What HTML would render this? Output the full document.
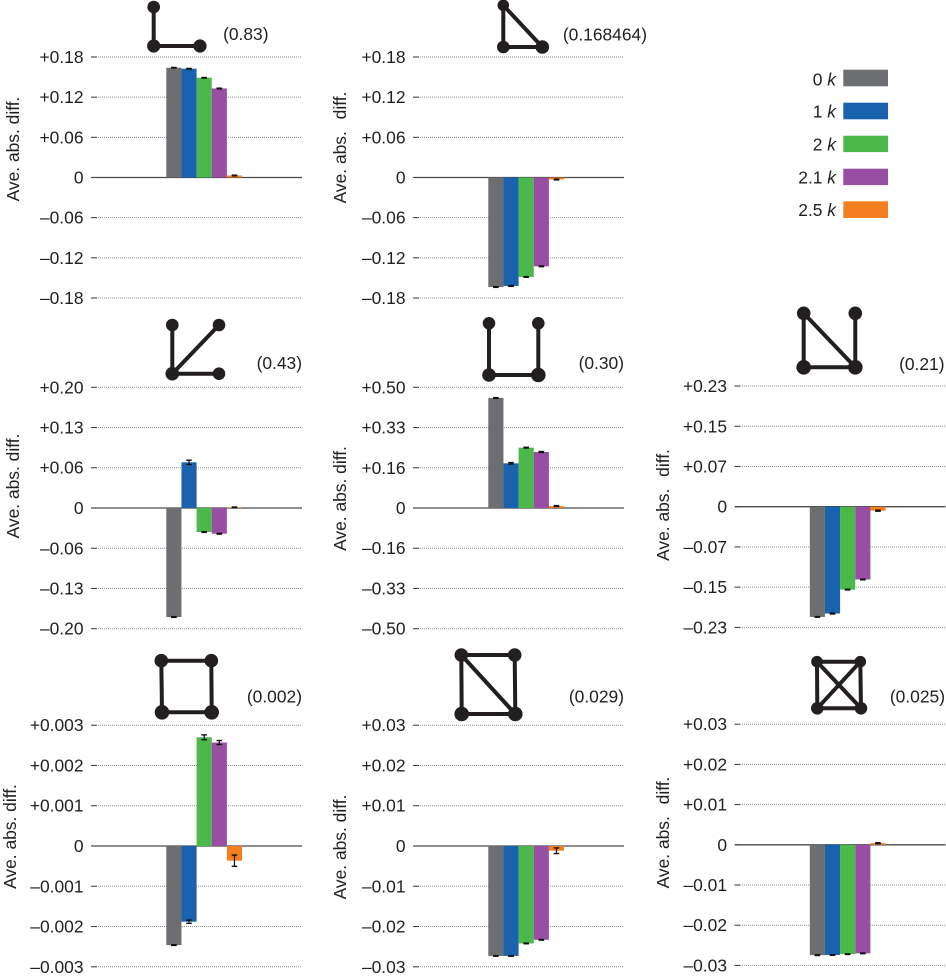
<!DOCTYPE html>
<html lang="en">
<head>
<meta charset="utf-8">
<title>Average absolute difference by motif</title>
<style>
  html, body { margin: 0; padding: 0; background: #fff; }
  #chart { display: block; }
  text { font-family: "Liberation Sans", Arial, sans-serif; font-size: 17.4px; fill: #231f20; }
  .edge { stroke: #231f20; stroke-width: 4; stroke-linecap: round; fill: none; }
  .node { fill: #231f20; stroke: #231f20; stroke-width: 0.6; }
</style>
</head>
<body>
<svg id="chart" xmlns="http://www.w3.org/2000/svg" width="946" height="977" viewBox="0 0 946 977">
  <rect x="0" y="0" width="946" height="977" fill="#fff"/>

  <g id="panels"></g>

  <!-- y-axis titles -->
  <text transform="translate(19,149) rotate(-90)" text-anchor="middle">Ave. abs. diff.</text>
  <text transform="translate(346,147.5) rotate(-90)" text-anchor="middle">Ave. abs. <tspan dx="7">diff.</tspan></text>
  <text transform="translate(19,486) rotate(-90)" text-anchor="middle">Ave. abs. diff.</text>
  <text transform="translate(346,498.5) rotate(-90)" text-anchor="middle">Ave. abs. diff.</text>
  <text transform="translate(669,505) rotate(-90)" text-anchor="middle">Ave. abs. <tspan dx="7">diff.</tspan></text>
  <text transform="translate(16,836.5) rotate(-90)" text-anchor="middle">Ave. abs. diff.</text>
  <text transform="translate(346,847) rotate(-90)" text-anchor="middle">Ave. abs. diff.</text>
  <text transform="translate(669,832.5) rotate(-90)" text-anchor="middle">Ave. abs. <tspan dx="7">diff.</tspan></text>

  <!-- motif frequency labels -->
  <text x="268.5" y="40" text-anchor="end">(0.83)</text>
  <text x="647" y="40.5" text-anchor="end">(0.168464)</text>
  <text x="302" y="369" text-anchor="end">(0.43)</text>
  <text x="624" y="369" text-anchor="end">(0.30)</text>
  <text x="944.5" y="370" text-anchor="end">(0.21)</text>
  <text x="302" y="702.5" text-anchor="end">(0.002)</text>
  <text x="624" y="702.5" text-anchor="end">(0.029)</text>
  <text x="945" y="702.5" text-anchor="end">(0.025)</text>

  <!-- motif glyphs -->
  <g>
    <path class="edge" d="M153.7 7V46H200"/>
    <circle class="node" cx="153.7" cy="7" r="6"/><circle class="node" cx="153.7" cy="46" r="6.3"/><circle class="node" cx="200" cy="46" r="6.3"/>
  </g>
  <g>
    <path class="edge" d="M503.3 5.3V47H542.3Z"/>
    <circle class="node" cx="503.3" cy="5.3" r="5.5"/><circle class="node" cx="503.3" cy="47" r="6"/><circle class="node" cx="542.3" cy="47" r="6.5"/>
  </g>
  <g>
    <path class="edge" d="M172.3 325V373.7H219M172.3 373.7L219 325"/>
    <circle class="node" cx="172.3" cy="325" r="6"/><circle class="node" cx="219" cy="325" r="6"/><circle class="node" cx="172.3" cy="373.7" r="6.5"/><circle class="node" cx="219" cy="373.7" r="6"/>
  </g>
  <g>
    <path class="edge" d="M489 323.3V375H538.3V323.3"/>
    <circle class="node" cx="489" cy="323.3" r="6"/><circle class="node" cx="538.3" cy="323.3" r="6"/><circle class="node" cx="489" cy="375" r="6.5"/><circle class="node" cx="538.3" cy="375" r="7"/>
  </g>
  <g>
    <path class="edge" d="M855.3 313.3V367.3H803.7V313.3L855.3 367.3"/>
    <circle class="node" cx="803.7" cy="313.3" r="6.5"/><circle class="node" cx="855.3" cy="313.3" r="6.5"/><circle class="node" cx="803.7" cy="367.3" r="7"/><circle class="node" cx="855.3" cy="367.3" r="7"/>
  </g>
  <g>
    <path class="edge" d="M161.3 660.7H211.3L211.7 712.3H162Z"/>
    <circle class="node" cx="161.3" cy="660.7" r="6.5"/><circle class="node" cx="211.3" cy="660.7" r="6.5"/><circle class="node" cx="162" cy="712.3" r="7"/><circle class="node" cx="211.7" cy="712.3" r="7"/>
  </g>
  <g>
    <path class="edge" d="M461.3 655H514.7L515.3 714H461.7ZM461.3 655L515.3 714"/>
    <circle class="node" cx="461.3" cy="655" r="6.5"/><circle class="node" cx="514.7" cy="655" r="6.5"/><circle class="node" cx="461.7" cy="714" r="7"/><circle class="node" cx="515.3" cy="714" r="7"/>
  </g>
  <g>
    <path class="edge" d="M817 661.7H860.3L861 708.3H817.3ZM817 661.7L861 708.3M860.3 661.7L817.3 708.3"/>
    <circle class="node" cx="817" cy="661.7" r="5.5"/><circle class="node" cx="860.3" cy="661.7" r="5.5"/><circle class="node" cx="817.3" cy="708.3" r="6"/><circle class="node" cx="861" cy="708.3" r="6"/>
  </g>

  <!-- legend -->
  <g>
    <g>
      <text x="836" y="85.5" text-anchor="end">0 <tspan font-style="italic">k</tspan></text>
      <rect x="843.3" y="69.7" width="44.7" height="16.6" fill="#6d6e71"/>
    </g>
    <g>
      <text x="836" y="117.5" text-anchor="end">1 <tspan font-style="italic">k</tspan></text>
      <rect x="843.3" y="102.7" width="44.7" height="16.6" fill="#1a62ae"/>
    </g>
    <g>
      <text x="836" y="150.5" text-anchor="end">2 <tspan font-style="italic">k</tspan></text>
      <rect x="843.3" y="135.7" width="44.7" height="16.4" fill="#4cb74a"/>
    </g>
    <g>
      <text x="836" y="183.5" text-anchor="end">2.1 <tspan font-style="italic">k</tspan></text>
      <rect x="843.3" y="168.7" width="44.7" height="16.4" fill="#984ea3"/>
    </g>
    <g>
      <text x="836" y="216" text-anchor="end">2.5 <tspan font-style="italic">k</tspan></text>
      <rect x="843.3" y="201.3" width="44.7" height="16.7" fill="#f47f20"/>
    </g>
  </g>
</svg>

<script>
// Series order: 0 k, 1 k, 2 k, 2.1 k, 2.5 k
const seriesNames = ['0k', '1k', '2k', '2-1k', '2-5k'];

const panel1Values = [0.164, 0.1625, 0.149, 0.133, 0.003];
const panel1Errors = [0.0004, 0.0004, 0.0004, 0.0005, 0.0005];
const panel1Ticks = [0.18, 0.12, 0.06, 0, -0.06, -0.12, -0.18];
const panel1TickLabels = ['+0.18', '+0.12', '+0.06', '0', '–0.06', '–0.12', '–0.18'];

const panel2Values = [-0.1636, -0.162, -0.1486, -0.1327, -0.003];
const panel2Errors = [0.0005, 0.0005, 0.0005, 0.0005, 0.0006];
const panel2Ticks = [0.18, 0.12, 0.06, 0, -0.06, -0.12, -0.18];
const panel2TickLabels = ['+0.18', '+0.12', '+0.06', '0', '–0.06', '–0.12', '–0.18'];

const panel3Values = [-0.1806, 0.0757, -0.0398, -0.0426, 0.001];
const panel3Errors = [0.0006, 0.0035, 0.0006, 0.0007, 0.0006];
const panel3Ticks = [0.2, 0.1333, 0.0667, 0, -0.0667, -0.1333, -0.2];
const panel3TickLabels = ['+0.20', '+0.13', '+0.06', '0', '–0.06', '–0.13', '–0.20'];

const panel4Values = [0.4557, 0.185, 0.25, 0.232, 0.008];
const panel4Errors = [0.0015, 0.003, 0.0015, 0.002, 0.002];
const panel4Ticks = [0.5, 0.3333, 0.1667, 0, -0.1667, -0.3333, -0.5];
const panel4TickLabels = ['+0.50', '+0.33', '+0.16', '0', '–0.16', '–0.33', '–0.50'];

const panel5Values = [-0.21, -0.2036, -0.158, -0.1387, -0.0076];
const panel5Errors = [0.0006, 0.0008, 0.0006, 0.0006, 0.001];
const panel5Ticks = [0.23, 0.1533, 0.0767, 0, -0.0767, -0.1533, -0.23];
const panel5TickLabels = ['+0.23', '+0.15', '+0.07', '0', '–0.07', '–0.15', '–0.23'];

const panel6Values = [-0.00246, -0.00188, 0.0027, 0.00257, -0.000365];
const panel6Errors = [0.00001, 0.00004, 0.00006, 0.00005, 0.00014];
const panel6Ticks = [0.003, 0.002, 0.001, 0, -0.001, -0.002, -0.003];
const panel6TickLabels = ['+0.003', '+0.002', '+0.001', '0', '–0.001', '–0.002', '–0.003'];

const panel7Values = [-0.0273, -0.0273, -0.0242, -0.0233, -0.00117];
const panel7Errors = [0.00008, 0.00008, 0.00008, 0.00008, 0.0007];
const panel7Ticks = [0.03, 0.02, 0.01, 0, -0.01, -0.02, -0.03];
const panel7TickLabels = ['+0.03', '+0.02', '+0.01', '0', '–0.01', '–0.02', '–0.03'];

const panel8Values = [-0.02746, -0.0274, -0.0272, -0.027, 0.0004];
const panel8Errors = [0.00008, 0.00008, 0.00008, 0.00008, 0.00012];
const panel8Ticks = [0.03, 0.02, 0.01, 0, -0.01, -0.02, -0.03];
const panel8TickLabels = ['+0.03', '+0.02', '+0.01', '0', '–0.01', '–0.02', '–0.03'];

const barColors = ['#6d6e71', '#1a62ae', '#4cb74a', '#984ea3', '#f47f20'];

const panels = [
  { values: panel1Values, errors: panel1Errors, ticks: panel1Ticks, labels: panel1TickLabels, left: 91.5,  zero: 177.5, half: 120.5 },
  { values: panel2Values, errors: panel2Errors, ticks: panel2Ticks, labels: panel2TickLabels, left: 413.5, zero: 177.5, half: 120.5 },
  { values: panel3Values, errors: panel3Errors, ticks: panel3Ticks, labels: panel3TickLabels, left: 91.5,  zero: 508,   half: 120.7 },
  { values: panel4Values, errors: panel4Errors, ticks: panel4Ticks, labels: panel4TickLabels, left: 413.5, zero: 508,   half: 120.7 },
  { values: panel5Values, errors: panel5Errors, ticks: panel5Ticks, labels: panel5TickLabels, left: 735,   zero: 506.7, half: 120.7 },
  { values: panel6Values, errors: panel6Errors, ticks: panel6Ticks, labels: panel6TickLabels, left: 91.5,  zero: 846,   half: 120.8 },
  { values: panel7Values, errors: panel7Errors, ticks: panel7Ticks, labels: panel7TickLabels, left: 413.5, zero: 846,   half: 120.8 },
  { values: panel8Values, errors: panel8Errors, ticks: panel8Ticks, labels: panel8TickLabels, left: 735,   zero: 844.8, half: 120.6 }
];

const SVG_NS = 'http://www.w3.org/2000/svg';
const AXIS_WIDTH = 210.5;
const BARS_OFFSET = 74.8;
const BAR_WIDTH = 15.15;

function make(tag, parent) {
  const el = document.createElementNS(SVG_NS, tag);
  parent.appendChild(el);
  return el;
}

function setLine(el, x1, y1, x2, y2, color, width) {
  el.setAttribute('x1', x1);
  el.setAttribute('y1', y1);
  el.setAttribute('x2', x2);
  el.setAttribute('y2', y2);
  el.setAttribute('stroke', color);
  el.setAttribute('stroke-width', width);
}

function drawPanel(p, idx) {
  const root = document.getElementById('panels');
  const maxVal = Math.max.apply(null, p.ticks.map(Math.abs));
  const yScale = function (v) { return p.zero - (v / maxVal) * p.half; };
  const xScale = function (i) { return p.left + BARS_OFFSET + i * BAR_WIDTH; };

  const g = make('g', root);
  
  

  p.ticks.forEach(function (t, i) {
    const y = yScale(t);
    const tick = make('line', g);
    setLine(tick, p.left - 0.5, y, p.left + 5.5, y, '#333', 1);
    
    

    if (t !== 0) {
      const grid = make('line', g);
      setLine(grid, Math.round(p.left + 6.5), y, p.left + AXIS_WIDTH, y, '#8a8a8a', 1);
      grid.setAttribute('stroke-dasharray', '1 1');
      
      
    }

    const label = make('text', g);
    label.textContent = p.labels[i];
    label.setAttribute('x', p.left - 8);
    label.setAttribute('y', y + 6);
    label.setAttribute('text-anchor', 'end');
    
    
  });

  const zeroLine = make('line', g);
  setLine(zeroLine, p.left, yScale(0), p.left + AXIS_WIDTH, yScale(0), '#4a4a4a', 1.3);
  
  

  p.values.forEach(function (v, i) {
    const yv = yScale(v);
    const y0 = yScale(0);
    const bar = make('rect', g);
    bar.setAttribute('x', xScale(i));
    bar.setAttribute('y', Math.min(yv, y0));
    bar.setAttribute('width', BAR_WIDTH);
    bar.setAttribute('height', Math.abs(yv - y0));
    bar.setAttribute('fill', barColors[i]);
    
    

    const cx = xScale(i) + BAR_WIDTH / 2;
    const hi = yScale(v + p.errors[i]);
    const lo = yScale(v - p.errors[i]);
    const capW = 2.8;
    const stem = make('line', g);
    setLine(stem, cx, hi, cx, lo, '#111', 1.2);
    
    
    const capTop = make('line', g);
    setLine(capTop, cx - capW, hi, cx + capW, hi, '#111', 1.4);
    
    
    const capBottom = make('line', g);
    setLine(capBottom, cx - capW, lo, cx + capW, lo, '#111', 1.4);
    
    
  });
}

panels.forEach(drawPanel);
</script>
</body>
</html>
